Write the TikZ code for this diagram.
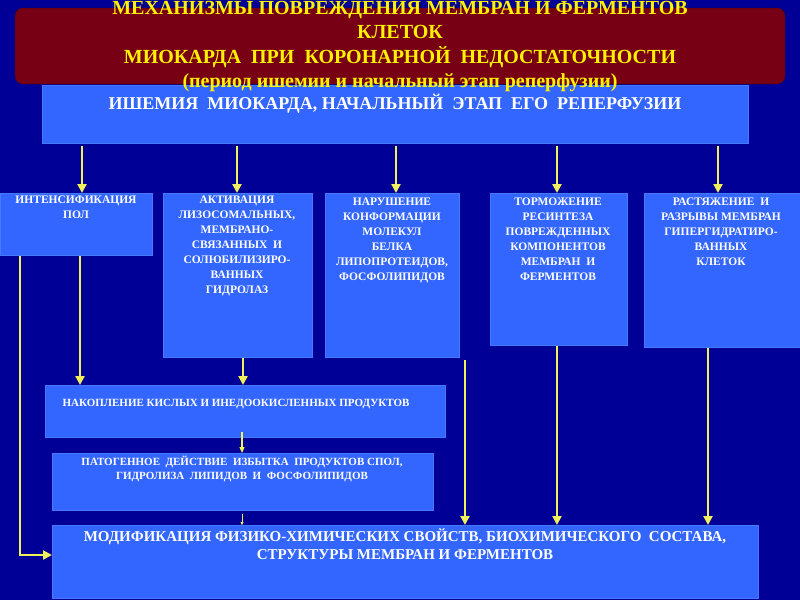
\documentclass[tikz,border=0pt]{standalone}
\usepackage{fontspec}
\setmainfont{Liberation Serif}
\usetikzlibrary{arrows.meta}
\definecolor{bg}{RGB}{0,0,150}
\definecolor{bx}{RGB}{51,102,255}
\definecolor{bxe}{RGB}{70,120,255}
\definecolor{ttl}{RGB}{120,0,20}
\definecolor{yl}{RGB}{240,240,90}
\tikzset{
 bxs/.style={fill=bx,draw=bxe,line width=1pt},
 lab/.style={text=white,font=\bfseries\fontsize{11.5}{15}\selectfont,align=center,anchor=north,inner sep=0pt},
 arr/.style={draw=yl,line width=2.2pt,-{Triangle[length=9pt,width=9pt,fill=yl]}}
}
\begin{document}
\begin{tikzpicture}[x=1pt,y=-1pt]
\fill[bg] (0,0) rectangle (800,600);
\useasboundingbox (0,0) rectangle (800,600);
% top blue box
\fill[bxs] (42,85) rectangle (748,143);
\node[lab,font=\bfseries\fontsize{18}{20}\selectfont] (top) at (395,94) {ИШЕМИЯ\ \ МИОКАРДА, НАЧАЛЬНЫЙ\ \ ЭТАП\ \ ЕГО\ \ РЕПЕРФУЗИИ};
% title
\fill[ttl,rounded corners=8pt,draw=ttl!60!black] (15,8) rectangle (785,84);
\node[text=yellow,font=\bfseries\fontsize{20}{24.5}\selectfont,align=center,anchor=north,inner sep=0pt] (ttl) at (400,1)
 {МЕХАНИЗМЫ ПОВРЕЖДЕНИЯ МЕМБРАН И ФЕРМЕНТОВ\\КЛЕТОК\\МИОКАРДА\ \ ПРИ\ \ КОРОНАРНОЙ\ \ НЕДОСТАТОЧНОСТИ\\(период ишемии и начальный этап реперфузии)};
% row boxes
\fill[bxs] (0,193) rectangle (152,255);
\fill[bxs] (163,193) rectangle (312,357);
\fill[bxs] (325,193) rectangle (459,357);
\fill[bxs] (490,193) rectangle (627,345);
\fill[bxs] (644,193) rectangle (800,347);
\node[lab] (b1) at (76,196) {ИНТЕНСИФИКАЦИЯ\\ПОЛ};
\node[lab] (b2) at (237,196) {АКТИВАЦИЯ\\ЛИЗОСОМАЛЬНЫХ,\\МЕМБРАНО-\\СВЯЗАННЫХ\ \ И\\СОЛЮБИЛИЗИРО-\\ВАННЫХ\\ГИДРОЛАЗ};
\node[lab] (b3) at (392,198) {НАРУШЕНИЕ\\КОНФОРМАЦИИ\\МОЛЕКУЛ\\БЕЛКА\\ЛИПОПРОТЕИДОВ,\\ФОСФОЛИПИДОВ};
\node[lab] (b4) at (558,198) {ТОРМОЖЕНИЕ\\РЕСИНТЕЗА\\ПОВРЕЖДЕННЫХ\\КОМПОНЕНТОВ\\МЕМБРАН\ \ И\\ФЕРМЕНТОВ};
\node[lab] (b5) at (721,198) {РАСТЯЖЕНИЕ\ \ И\\РАЗРЫВЫ МЕМБРАН\\ГИПЕРГИДРАТИРО-\\ВАННЫХ\\КЛЕТОК};
% lower boxes
\fill[bxs] (45,385) rectangle (445,437);
\node[lab,font=\bfseries\fontsize{11}{13}\selectfont] (acc) at (236,399) {НАКОПЛЕНИЕ КИСЛЫХ И ИНЕДООКИСЛЕННЫХ ПРОДУКТОВ};
\fill[bxs] (52,453) rectangle (433,510);
\node[lab,font=\bfseries\fontsize{11}{14}\selectfont] (pat) at (242,456) {ПАТОГЕННОЕ\ \ ДЕЙСТВИЕ\ \ ИЗБЫТКА\ \ ПРОДУКТОВ СПОЛ,\\ГИДРОЛИЗА\ \ ЛИПИДОВ\ \ И\ \ ФОСФОЛИПИДОВ};
\fill[bxs] (52,525) rectangle (758,598);
\node[lab,font=\bfseries\fontsize{15}{18}\selectfont] (mod) at (405,529) {МОДИФИКАЦИЯ ФИЗИКО-ХИМИЧЕСКИХ СВОЙСТВ, БИОХИМИЧЕСКОГО\ \ СОСТАВА,\\СТРУКТУРЫ МЕМБРАН И ФЕРМЕНТОВ};
% coordinates
\coordinate (t1) at (82,146); \coordinate (t1e) at (82,193);
\coordinate (t2) at (237,146); \coordinate (t2e) at (237,193);
\coordinate (t3) at (396,146); \coordinate (t3e) at (396,193);
\coordinate (t4) at (557,146); \coordinate (t4e) at (557,193);
\coordinate (t5) at (718,146); \coordinate (t5e) at (718,193);
\foreach \i in {1,...,5} \draw[arr] (t\i) -- (t\i e);
\coordinate (l1) at (20,256); \coordinate (l1c) at (20,555); \coordinate (l1e) at (52,555);
\draw[arr] (l1) -- (l1c) -- (l1e);
\coordinate (l2) at (80,256); \coordinate (l2e) at (80,385);
\draw[arr] (l2) -- (l2e);
\coordinate (l3) at (243,358); \coordinate (l3e) at (243,385);
\draw[arr] (l3) -- (l3e);
\coordinate (l4) at (242,432); \coordinate (l4e) at (242,453);
\draw[draw=yl,line width=1.2pt,-{Triangle[length=6pt,width=5pt,fill=yl]}] (l4) -- (l4e);
\coordinate (l5) at (242,514); \coordinate (l5e) at (242,525);
\draw[draw=yl,line width=0.6pt,-{Triangle[length=3pt,width=3pt,fill=yl]}] (l5) -- (l5e);
\coordinate (r1) at (465,360); \coordinate (r1e) at (465,525);
\coordinate (r2) at (557,346); \coordinate (r2e) at (557,525);
\coordinate (r3) at (708,348); \coordinate (r3e) at (708,525);
\foreach \i in {1,2,3} \draw[arr] (r\i) -- (r\i e);
\end{tikzpicture}
\end{document}
